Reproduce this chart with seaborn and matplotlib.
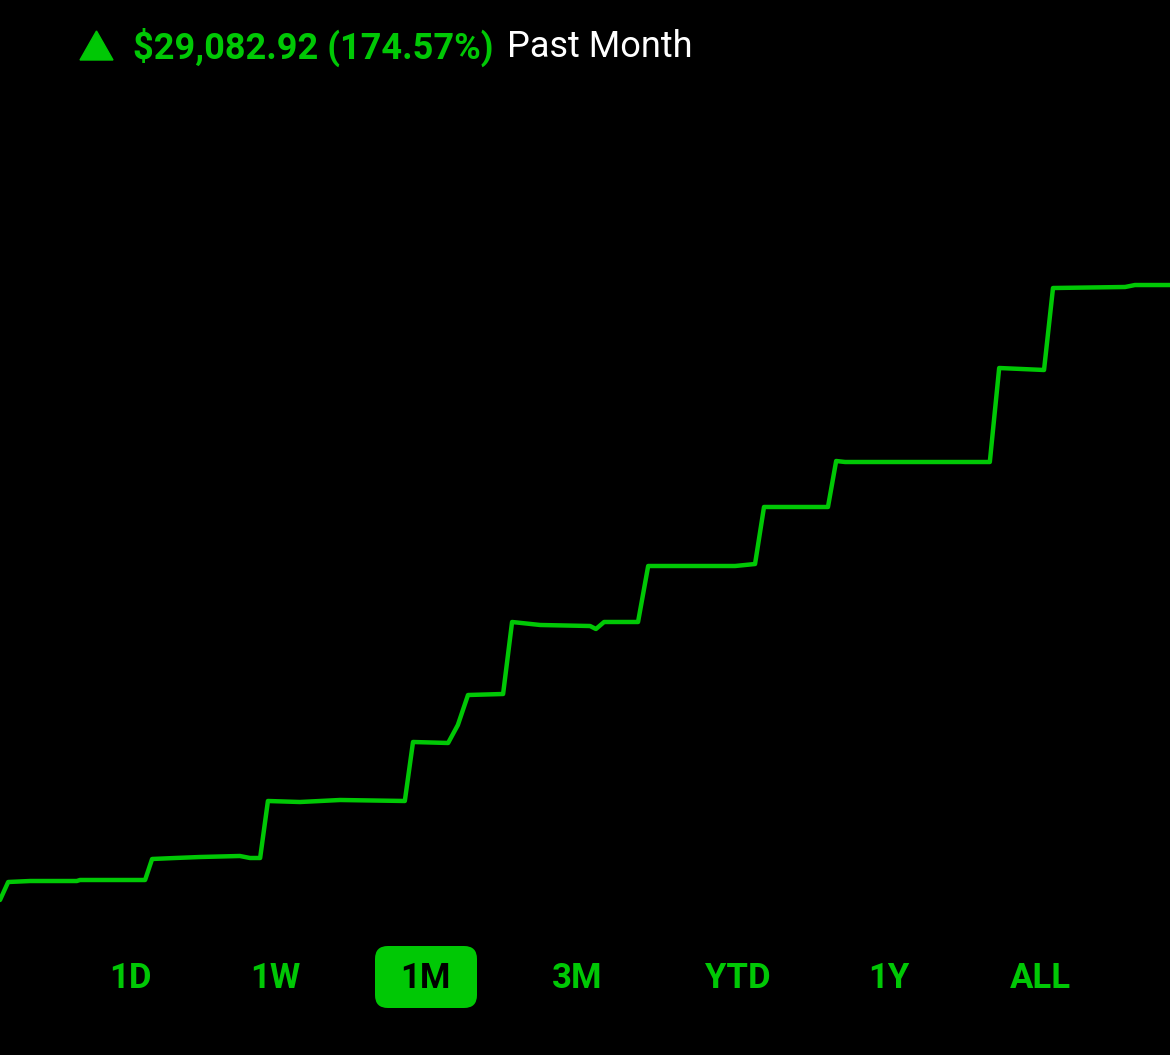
import matplotlib
matplotlib.use("Agg")
import matplotlib.pyplot as plt
import seaborn as sns
import pandas as pd
from matplotlib.patches import FancyBboxPatch, Polygon

# ---- data ----
days = [0.0, 0.21, 0.77, 1.97, 2.05, 2.90, 3.72, 3.90, 4.49, 5.13, 6.15, 6.41, 6.67,
        6.87, 7.69, 8.72, 10.38, 10.59, 11.49, 11.74, 12.00, 12.90, 13.13, 13.85,
        15.13, 15.28, 15.49, 16.36, 16.62, 17.95, 18.85, 19.36, 19.59, 21.23, 21.44,
        21.67, 25.38, 25.62, 26.77, 27.00, 28.85, 29.10, 30.0]
portfolio = [16660, 17511, 17558, 17558, 17606, 17606, 17606, 18599, 18646, 18693,
             18741, 18646, 18646, 21342, 21294, 21389, 21342, 24132, 24085, 24936,
             26354, 26402, 29807, 29665, 29617, 29476, 29807, 29807, 32455, 32455,
             32455, 32549, 35245, 35245, 37420, 37373, 37373, 41818, 41724, 45601,
             45649, 45742, 45742]
gain_text = "$29,082.92 (174.57%)"
period_text = "Past Month"
ranges = ["1D", "1W", "1M", "3M", "YTD", "1Y", "ALL"]
selected = "1M"

GREEN = "#00C805"

sns.set_style("dark", {"axes.facecolor": "black", "figure.facecolor": "black"})
plt.rcParams["font.family"] = ["Roboto", "DejaVu Sans"]

W, H = 1170, 1055
fig = plt.figure(figsize=(W / 100, H / 100), dpi=100)
fig.patch.set_facecolor("black")

ax = fig.add_axes([0, (H - 920) / H, 1, 820 / H])
df = pd.DataFrame({"day": days, "value": portfolio})
sns.lineplot(data=df, x="day", y="value", ax=ax, color=GREEN, linewidth=3.2,
             clip_on=False)
ax.set_xlim(0, 30)
ax.set_ylim(15714, 54492)
ax.set_axis_off()

def fx(px):
    return px / W

def fy(py):
    return 1 - py / H

# header
tri = Polygon([[fx(80), fy(60)], [fx(113), fy(60)], [fx(96.5), fy(31)]],
              closed=True, transform=fig.transFigure, color=GREEN)
fig.patches.append(tri)
fig.text(fx(133), fy(47), gain_text, color=GREEN, fontsize=26,
         fontweight="bold", va="center", ha="left")
fig.text(fx(507), fy(47), period_text, color="white", fontsize=26,
         fontweight="normal", va="center", ha="left")

# range buttons
centers = [130, 275, 425, 577, 738, 889, 1040]
for lab, cx in zip(ranges, centers):
    if lab == selected:
        box = FancyBboxPatch((fx(375), fy(1008)), fx(102), 62 / H,
                             boxstyle="round,pad=0,rounding_size=0.011",
                             transform=fig.transFigure, facecolor=GREEN,
                             edgecolor="none", mutation_aspect=W / H)
        fig.patches.append(box)
        col = "black"
    else:
        col = GREEN
    fig.text(fx(cx), fy(979), lab, color=col, fontsize=25,
             fontweight="bold", ha="center", va="center")

fig.savefig("out.png", dpi=100, facecolor="black")
